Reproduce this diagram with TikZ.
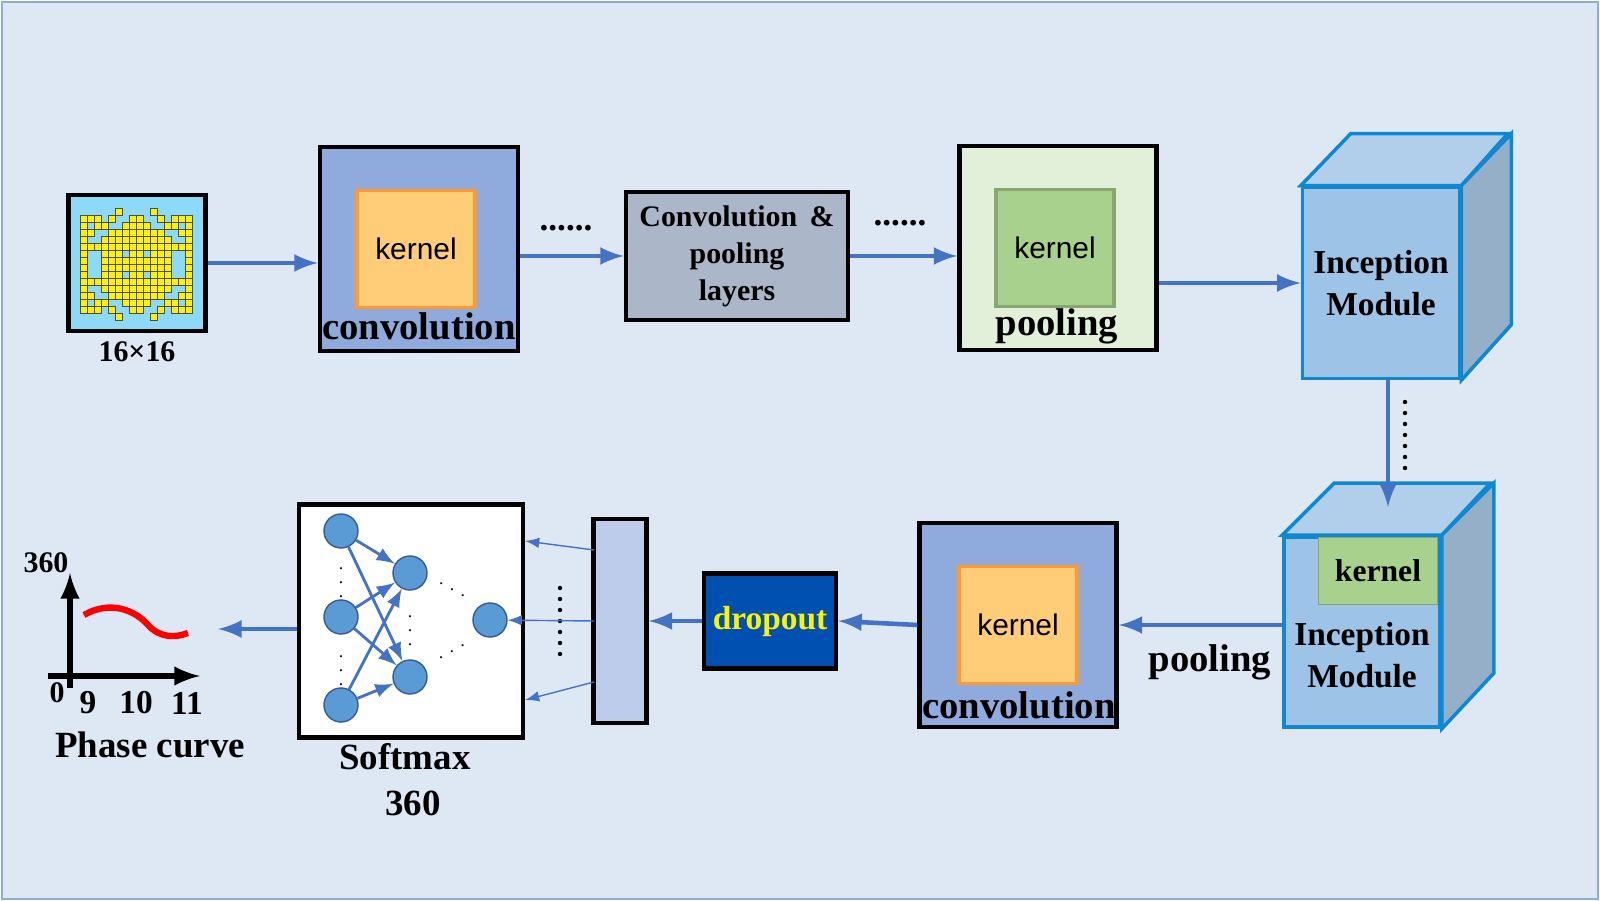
\documentclass[tikz,border=0pt]{standalone}
\usepackage{fontspec}
\setmainfont{Liberation Serif}
\newfontfamily\kfont{Liberation Sans}
\usetikzlibrary{positioning}
\definecolor{bgblue}{HTML}{DEE8F5}
\definecolor{convblue}{HTML}{8FAADC}
\definecolor{kernelor}{HTML}{FFCC77}
\definecolor{poolgreen}{HTML}{E2F0D9}
\definecolor{kgreen}{HTML}{A9D18E}
\definecolor{cubeblue}{HTML}{9DC3E6}
\definecolor{arrowblue}{HTML}{4472C4}
\definecolor{nodeblue}{HTML}{5B9BD5}
\tikzset{
  box/.style={draw=black, line width=1.2pt, inner sep=0pt},
  kbox/.style={draw=#1, line width=1pt, inner sep=0pt, minimum width=1.18cm, minimum height=1.17cm},
  bigtxt/.style={font=\bfseries\fontsize{11}{11}\selectfont},
  midtxt/.style={font=\bfseries\fontsize{8.5}{10.5}\selectfont, align=center},
  ktxt/.style={font=\kfont\fontsize{8.5}{8.5}\selectfont},
  flow/.style={draw=arrowblue, line width=1.3pt, -latex},
  thin/.style={draw=arrowblue, line width=0.4pt, -latex},
  neuron/.style={circle, draw=arrowblue!80!black, fill=nodeblue, minimum size=0.34cm, inner sep=0pt},
  cell/.style={fill=yellow, draw=black!70, line width=0.2pt}
}
\begin{document}
\begin{tikzpicture}[x=0.01cm, y=-0.01cm]
\useasboundingbox (0,0) rectangle (1600,901);
\fill[bgblue, draw=arrowblue!60] (2,2) rectangle (1598,899);

% input image
\node[box, fill=cyan!45, minimum width=1.37cm, minimum height=1.36cm] (in) at (137,263) {};
\foreach \c/\r in {5/0, 0/1,1/1,2/1,4/1,7/1, 0/2,2/2,3/2,6/2,7/2, 0/3,1/3,4/3,5/3,6/3,7/3,
  0/4,3/4,4/4,5/4,6/4,7/4, 0/5,1/5,2/5,3/5,4/5,5/5,6/5,7/5, 0/6,3/6,4/6,5/6,7/6, 0/7,3/7,4/7,5/7,6/7,7/7}{
  \foreach \x/\y in {\c/\r, 15-\c/\r, \c/15-\r, 15-\c/15-\r}{
    \draw[cell] ({80+7*(\x)},{208+7*(\y)}) rectangle ++(7,7);
  }
}
\node[midtxt] (inlab) at (137,352) {16×16};

% first convolution
\node[box, fill=convblue, minimum width=1.98cm, minimum height=2.04cm] (c1) at (419,249) {};
\node[kbox=orange!80, fill=kernelor] (k1) at (416,249) {};
\node[ktxt] at (k1) {kernel};
\node[bigtxt] (c1lab) at (419,326) {convolution};
\node[font=\bfseries] (d1) at (566,228) {......};

% conv and pooling layers
\node[box, fill=gray!45!convblue!70, minimum width=2.22cm, minimum height=1.28cm] (cp) at (737,256) {};
\node[midtxt] at (cp) {Convolution \,\&\\pooling\\layers};
\node[font=\bfseries] (d2) at (900,223) {......};

% pooling
\node[box, fill=poolgreen, minimum width=1.97cm, minimum height=2.04cm] (p1) at (1058,248) {};
\node[kbox=kgreen!80!black, fill=kgreen] (k2) at (1055,248) {};
\node[ktxt] at (k2) {kernel};
\node[bigtxt] (p1lab) at (1057,326) {pooling};

% first inception cube
\node[draw=cyan!70!blue, line width=1pt, fill=cubeblue, minimum width=1.57cm, minimum height=1.91cm] (i1) at (1381,283) {};
\filldraw[draw=cyan!70!blue, line width=1pt, fill=cubeblue!80!white] (i1.north west) -- ++(50,-52) -- ++(157,0) -- (i1.north east) -- cycle;
\filldraw[draw=cyan!70!blue, line width=1pt, fill=cubeblue!70!gray] (i1.north east) -- ++(50,-52) -- ++(0,191) -- (i1.south east) -- cycle;
\node[midtxt, font=\bfseries\fontsize{9.5}{12}\selectfont] at (i1) {Inception\\Module};

% second inception cube
\node[draw=cyan!70!blue, line width=1pt, fill=cubeblue, minimum width=1.56cm, minimum height=1.90cm] (i2) at (1362,632) {};
\filldraw[draw=cyan!70!blue, line width=1pt, fill=cubeblue!80!white] (i2.north west) -- ++(52,-52) -- ++(156,0) -- (i2.north east) -- cycle;
\filldraw[draw=cyan!70!blue, line width=1pt, fill=cubeblue!70!gray] (i2.north east) -- ++(52,-52) -- ++(0,190) -- (i2.south east) -- cycle;
\node[draw=kgreen!80!black, fill=kgreen, minimum width=1.19cm, minimum height=0.67cm, inner sep=0pt] (k3) at (1378,571) {};
\node[midtxt, font=\bfseries\fontsize{9}{9}\selectfont] at (k3) {kernel};
\node[midtxt, font=\bfseries\fontsize{9.5}{12}\selectfont] (i2lab) at (1362,655) {Inception\\Module};
\coordinate (i1b) at (1388,379);
\coordinate (i2t) at (1388,507);
\foreach \t in {0,...,6}{ \fill (1405,{402+11*\t}) circle (2.2); }
\node[bigtxt] (plab) at (1210,662) {pooling};

% second convolution
\node[box, fill=convblue, minimum width=1.97cm, minimum height=2.04cm] (c2) at (1018,625) {};
\node[kbox=orange!80, fill=kernelor] (k4) at (1018,625) {};
\node[ktxt] at (k4) {kernel};
\node[bigtxt] (c2lab) at (1019,705) {convolution};

% dropout and flat layer
\node[box, fill=blue!55!cyan!70!black, minimum width=1.32cm, minimum height=0.95cm] (dr) at (770,621) {};
\node[midtxt, text=yellow, font=\bfseries\fontsize{9.5}{9.5}\selectfont] at (dr) {dropout};
\node[box, fill=convblue!60!white, minimum width=0.53cm, minimum height=2.04cm] (fl) at (620,621) {};
\foreach \t in {0,...,6}{ \fill (560,{588+11*\t}) circle (2.2); }

% softmax
\node[box, fill=white, minimum width=2.24cm, minimum height=2.33cm] (sm) at (411,621) {};
\node[neuron] (11) at (341,531) {};
\node[neuron] (12) at (341,617) {};
\node[neuron] (13) at (341,705) {};
\node[neuron] (21) at (410,573) {};
\node[neuron] (22) at (410,677) {};
\node[neuron] (31) at (490,620) {};
\foreach \a in {11,12,13}{
  \foreach \b in {21,22}{ \draw[arrowblue, line width=0.8pt, -latex] (\a) -- (\b); }
}
\node[font=\tiny] at (341,572) {$\vdots$};
\node[font=\tiny] at (341,660) {$\vdots$};
\node[font=\tiny] at (410,620) {$\vdots$};
\node[font=\tiny, rotate=-30] at (452,590) {$\cdots$};
\node[font=\tiny, rotate=30] at (452,652) {$\cdots$};
\node[bigtxt, font=\bfseries\fontsize{10.5}{10.5}\selectfont] (smlab) at (405,757) {Softmax};
\node[bigtxt, font=\bfseries\fontsize{10.5}{10.5}\selectfont] (smnum) at (413,803) {360};
\coordinate (fa) at (594,550);
\coordinate (fb) at (594,621);
\coordinate (fc) at (594,682);

% phase curve
\coordinate (o) at (70,676);
\coordinate (xl) at (48,676);
\coordinate (xr) at (200,676);
\coordinate (yt) at (70,573);
\coordinate (yb) at (70,688);
\draw[line width=1.5pt, -latex] (xl) -- (xr);
\draw[line width=1.5pt, -latex] (yb) -- (yt);
\draw[red, line width=1.8pt] (84,615) .. controls (110,600) and (135,610) .. (148,625) .. controls (160,638) and (175,638) .. (188,633);
\node[midtxt, font=\bfseries\fontsize{8.5}{8.5}\selectfont] (ym) at (46,563) {360};
\node[midtxt, font=\bfseries\fontsize{8.5}{8.5}\selectfont] (x0) at (57,693) {0};
\node[midtxt, font=\bfseries\fontsize{9.5}{9.5}\selectfont] (x9) at (88,703) {9};
\node[midtxt, font=\bfseries\fontsize{9.5}{9.5}\selectfont] (x10) at (136,703) {10};
\node[midtxt, font=\bfseries\fontsize{9.5}{9.5}\selectfont] (x11) at (187,703) {11};
\node[bigtxt, font=\bfseries\fontsize{10.5}{10.5}\selectfont] (phlab) at (150,745) {Phase curve};
\coordinate (ph) at (218,629);

% connectors
\draw[flow] (in.east) -- (c1.west |- in.east);
\draw[flow] (c1.east |- cp.west) -- (cp.west);
\draw[flow] (cp.east) -- (p1.west |- cp.east);
\draw[flow] (p1.east |- i1.west) -- (i1.west);
\draw[flow] (i1b) -- (i2t);
\draw[flow] (i2.west |- c2.east) -- (c2.east);
\draw[flow] (c2.west) -- (dr.east);
\draw[flow] (dr.west) -- (fl.east);
\draw[thin] (fa) -- (sm.north east |- 0,541);
\draw[thin] (fb) -- (31);
\draw[thin] (fc) -- (sm.north east |- 0,700);
\draw[flow] (sm.west |- ph) -- (ph);
\end{tikzpicture}
\end{document}
